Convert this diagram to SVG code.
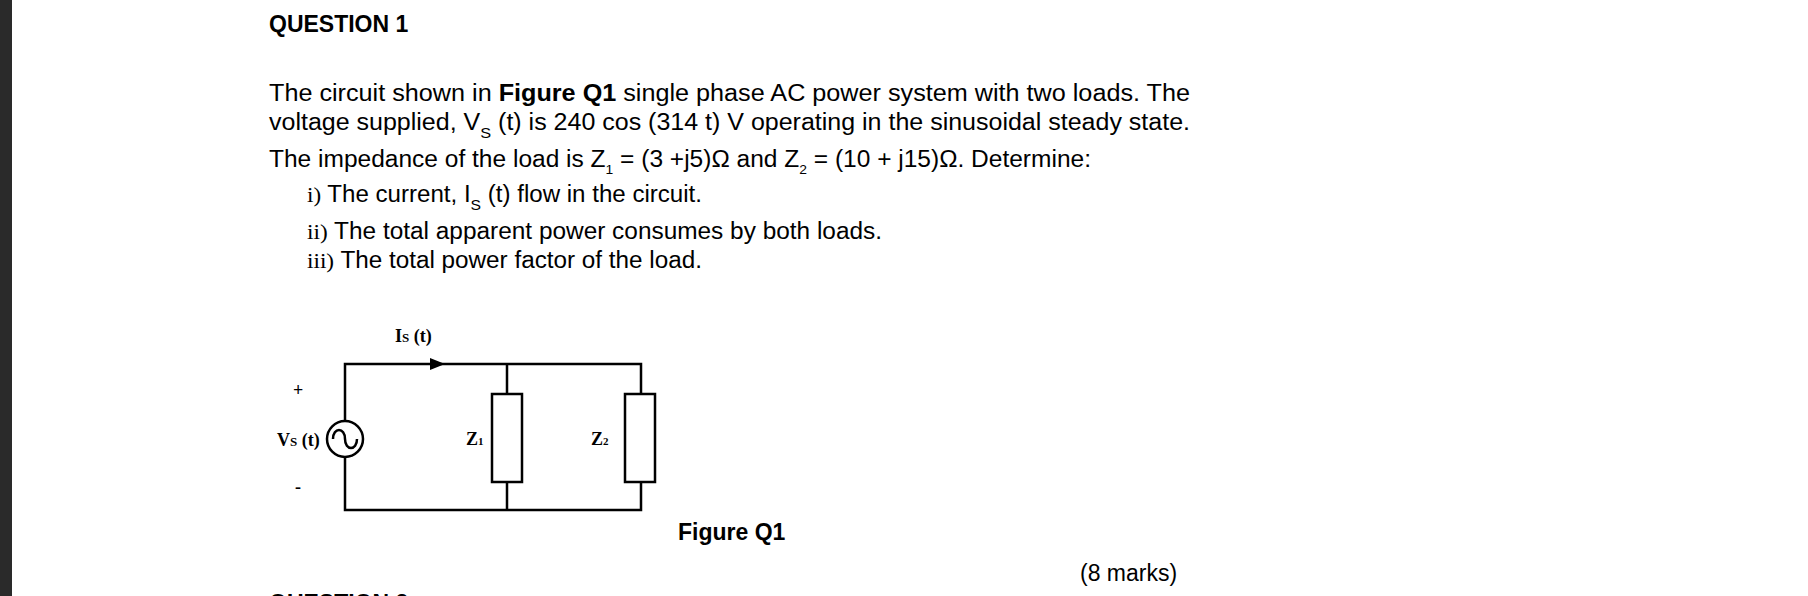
<svg xmlns="http://www.w3.org/2000/svg" width="1808" height="596" viewBox="0 0 1808 596">
<style>
.t{font-family:"Liberation Sans",Arial,sans-serif;font-size:23px;fill:#000}
.r{font-family:"Liberation Serif","Times New Roman",serif;font-size:22px}
.c{font-family:"Liberation Serif","Times New Roman",serif;font-weight:bold;font-size:18px;fill:#000}
.w{stroke:#000;stroke-width:2.5;fill:none}
</style>
<rect width="1808" height="596" fill="#fff"/>
<rect x="0" y="0" width="12" height="596" fill="#2a2a2a"/>
<text class="t" x="269" y="32" font-weight="bold" font-size="21">QUESTION 1</text>
<text class="t" x="269" y="101" textLength="921" lengthAdjust="spacingAndGlyphs">The circuit shown in <tspan font-weight="bold">Figure Q1</tspan> single phase AC power system with two loads. The</text>
<text class="t" x="269" y="130" textLength="921" lengthAdjust="spacingAndGlyphs">voltage supplied, V<tspan font-size="15" dy="8">S</tspan><tspan dy="-8"> (t) is 240 cos (314 t) V operating in the sinusoidal steady state.</tspan></text>
<text class="t" x="269" y="167" textLength="822" lengthAdjust="spacingAndGlyphs">The impedance of the load is Z<tspan font-size="13" dy="7">1</tspan><tspan dy="-7"> = (3 +j5)Ω and Z</tspan><tspan font-size="13" dy="7">2</tspan><tspan dy="-7"> = (10 + j15)Ω. Determine:</tspan></text>
<text class="t" x="307" y="202" textLength="395" lengthAdjust="spacingAndGlyphs"><tspan class="r">i)</tspan> The current, I<tspan font-size="15" dy="8">S</tspan><tspan dy="-8"> (t) flow in the circuit.</tspan></text>
<text class="t" x="307" y="239" textLength="575" lengthAdjust="spacingAndGlyphs"><tspan class="r">ii)</tspan> The total apparent power consumes by both loads.</text>
<text class="t" x="307" y="268" textLength="395" lengthAdjust="spacingAndGlyphs"><tspan class="r">iii)</tspan> The total power factor of the load.</text>
<g id="connectors">
<path class="w" d="M345 421 V364 H641 V394 M507 364 V394 M345 457 V510 H641 V482 M507 482 V510"/>
<polygon points="430,358 445,364 430,370" fill="#000"/>
</g>
<g id="source">
<circle class="w" cx="345" cy="439" r="18"/>
<path class="w" d="M333 439 C333 427 345 427 345 439 C345 451 357 451 357 439"/>
</g>
<g id="Z1"><rect class="w" x="492" y="394" width="30" height="88"/></g>
<g id="Z2"><rect class="w" x="625" y="394" width="30" height="88"/></g>
<text class="c" x="395" y="342">I<tspan font-size="13">S</tspan> (t)</text>
<text class="c" x="277" y="446">V<tspan font-size="13">S</tspan> (t)</text>
<text class="c" x="293" y="396" font-weight="normal">+</text>
<text class="c" x="295" y="493" font-weight="normal">-</text>
<text class="c" x="466" y="445">Z<tspan font-size="11">1</tspan></text>
<text class="c" x="591" y="445">Z<tspan font-size="11">2</tspan></text>
<text class="t" x="678" y="540" font-weight="bold" font-size="22">Figure Q1</text>
<text class="t" x="1080" y="581" font-size="21">(8 marks)</text>
<text class="t" x="269" y="611" font-weight="bold" font-size="21">QUESTION 2</text>
</svg>
